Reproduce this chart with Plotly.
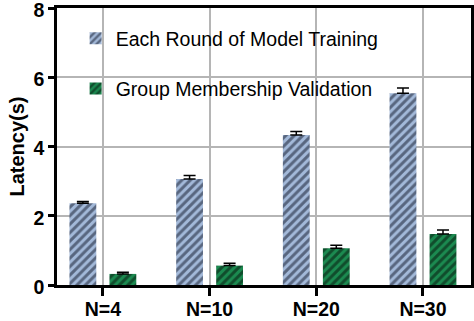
import plotly.graph_objects as go

categories = ["N=4", "N=10", "N=20", "N=30"]
training = [2.36, 3.06, 4.33, 5.54]
training_err = [0.05, 0.10, 0.10, 0.15]
validation = [0.32, 0.56, 1.06, 1.47]
validation_err = [0.05, 0.07, 0.09, 0.12]
series_names = ["Each Round of Model Training", "Group Membership Validation"]

fig = go.Figure()
fig.add_trace(go.Bar(
    x=categories, y=training, name=series_names[0], legendgroup="a",
    marker=dict(color="#a3b9d9", line=dict(width=0),
                pattern=dict(shape="/", fgcolor="#0d1426", size=6, solidity=0.5)),
    error_y=dict(type="data", array=training_err, arrayminus=[0]*4, symmetric=False,
                 color="black", thickness=1.5, width=6),
))
fig.add_trace(go.Bar(
    x=categories, y=validation, name=series_names[1], legendgroup="b",
    marker=dict(color="#1b8a50", line=dict(width=0),
                pattern=dict(shape="/", fgcolor="#050d08", size=6, solidity=0.5)),
    error_y=dict(type="data", array=validation_err, arrayminus=[0]*4, symmetric=False,
                 color="black", thickness=1.5, width=6),
))

fig.update_layout(
    width=474, height=321,
    margin=dict(l=57, r=3, t=8, b=36, autoexpand=False),
    plot_bgcolor="white", paper_bgcolor="white",
    barmode="group", bargap=0.25, bargroupgap=0.33,
    font=dict(family="Liberation Sans, Arial, sans-serif", color="black"),
    legend=dict(x=0.045, y=0.96, xanchor="left", yanchor="top",
                bgcolor="rgba(0,0,0,0)", font=dict(size=19.5),
                tracegroupgap=22, itemwidth=30),
)
fig.update_xaxes(
    automargin=False,
    range=[-0.43, 3.45], showline=True, linecolor="black", linewidth=2.5, mirror=True,
    showgrid=True, gridcolor="#b5b5b5", gridwidth=1.5,
    ticks="outside", ticklen=8, tickwidth=2.5, tickcolor="black",
    tickfont=dict(size=19.5, weight="bold"), ticklabelstandoff=-3,
)
fig.update_yaxes(
    automargin=False,
    range=[0, 8.0001], tickvals=[0, 2, 4, 6, 8], ticklabeloverflow="allow",
    showline=True, linecolor="black", linewidth=2.5, mirror=True,
    showgrid=True, gridcolor="#b5b5b5", gridwidth=1.5, zeroline=False,
    ticks="outside", ticklen=6, tickwidth=2.5, tickcolor="black",
    tickfont=dict(size=19.5, weight="bold"), ticklabelshift=2,
    title=dict(text="Latency(s)", font=dict(size=20, weight="bold"), standoff=4),
)

fig.write_html("out.html")
